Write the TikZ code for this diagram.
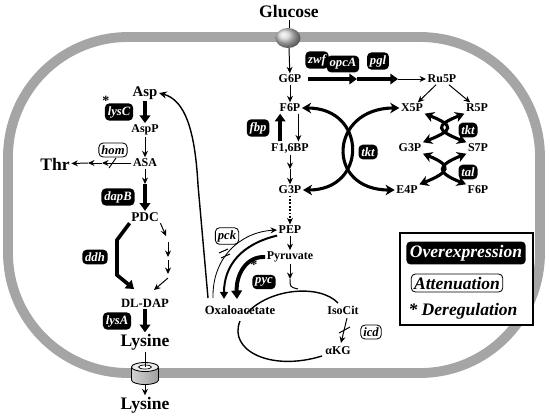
\documentclass[tikz,border=0pt]{standalone}
\usepackage{fontspec}
\setmainfont{Liberation Serif}
\usetikzlibrary{positioning,arrows.meta,shapes.geometric}
\definecolor{membrane}{RGB}{165,165,165}
\tikzset{
  met/.style={font=\bfseries\fontsize{8.5}{9}\selectfont, inner sep=1pt},
  bigmet/.style={font=\bfseries\fontsize{12.5}{13}\selectfont, inner sep=1pt},
  upbox/.style={fill=black, text=white, rounded corners=3pt, font=\bfseries\itshape\fontsize{9}{9}\selectfont, inner sep=2pt},
  downbox/.style={draw, fill=white, line width=0.6pt, rounded corners=3pt, font=\bfseries\itshape\fontsize{9}{9}\selectfont, inner sep=1.8pt},
  flux/.style={line width=0.7pt, -{Stealth[length=4.6pt,width=4.2pt]}},
  fat/.style={line width=2.6pt, -{Triangle[length=5.5pt,width=7.5pt]}},
  revflux/.style={line width=2.2pt, {Stealth[length=6.5pt,width=7.5pt,inset=2pt]}-{Stealth[length=6.5pt,width=7.5pt,inset=2pt]}},
}

\begin{document}
\begin{tikzpicture}[x=0.025cm,y=-0.025cm]
\useasboundingbox (0,0) rectangle (550,415);
% cell
\draw[membrane, line width=7pt, rounded corners=3cm] (8,37) rectangle (540,373);

% metabolites
\node[bigmet] (glc) at (289,12) {Glucose};
\node[met] (g6p) at (290,79) {G6P};
\node[met] (f6p) at (290,108) {F6P};
\node[met] (fbp16) at (290,148) {F1,6BP};
\node[met] (g3p) at (290,190) {G3P};
\node[met] (pep) at (290,230) {PEP};
\node[met] (pyr) at (290,257) {Pyruvate};
\node[met, font=\bfseries\fontsize{9}{9}\selectfont] (oaa) at (240,310) {Oxaloacetate};
\node[met] (isocit) at (343,310) {IsoCit};
\node[met] (akg) at (338,351) {αKG};
\node[met] (ru5p) at (442,79) {Ru5P};
\node[met] (x5p) at (412,108) {X5P};
\node[met] (r5p) at (477,108) {R5P};
\node[met] (g3pb) at (410,148) {G3P};
\node[met] (s7p) at (478,148) {S7P};
\node[met] (e4p) at (407,190) {E4P};
\node[met] (f6pb) at (478,190) {F6P};
\node[met, font=\bfseries\fontsize{10.5}{11}\selectfont] (asp) at (145,93) {Asp};
\node[met] (aspp) at (145,130) {AspP};
\node[met] (asa) at (145,163) {ASA};
\node[bigmet] (thr) at (55,164) {Thr};
\node[met, font=\bfseries\fontsize{9.5}{10}\selectfont] (pdc) at (145,217) {PDC};
\node[met, font=\bfseries\fontsize{9}{9}\selectfont] (dldap) at (145,303) {DL-DAP};
\node[bigmet] (lysin) at (145,342) {Lysine};
\node[bigmet] (lysout) at (145,405) {Lysine};

% genes
\node[upbox] (opca) at (343,64) {opcA};
\node[upbox] (zwf) at (317,60) {zwf};
\node[upbox] (pgl) at (378,61) {pgl};
\node[upbox] (fbp) at (258,128) {fbp};
\node[upbox] (tktA) at (368,152) {tkt};
\node[upbox] (tktB) at (468,130) {tkt};
\node[upbox] (tal) at (468,172) {tal};
\node[upbox] (lysc) at (119,112) {lysC};
\node[downbox] (hom) at (113,150) {hom};
\node[upbox] (dapb) at (118,197) {dapB};
\node[upbox] (ddh) at (95,257) {ddh};
\node[upbox] (lysa) at (117,321) {lysA};
\node[downbox] (pck) at (227,236) {pck};
\node[upbox] (pyc) at (264,282) {pyc};
\node[downbox] (icd) at (371,332) {icd};

% glucose uptake
\coordinate (ptsin) at (289,28);
\coordinate (ptsout) at (289,48);
\draw[line width=0.7pt] (glc) -- (ptsin);
\shade[ball color=gray!35] (288,38) ellipse (12.5 and 10);
\draw[flux] (ptsout) -- (g6p);

% glycolysis
\draw[flux] (g6p) -- (f6p);
\draw[flux] ([xshift=6pt]f6p.south) -- ([xshift=6pt]fbp16.north);
\draw[fat] ([xshift=-7pt]fbp16.north) -- ([xshift=-7pt]f6p.south);
\coordinate (gly1) at (290,169);
\draw[flux] (fbp16) -- (gly1);
\draw[flux] (gly1) -- (g3p);
\draw[flux, line width=0.9pt, dash pattern=on 1.2pt off 1.2pt] (g3p) -- (pep);
\draw[flux] (pep) -- (pyr);
\coordinate (pyrj) at (290,279);
\draw[flux] (pyr) -- (pyrj);
\draw[line width=0.7pt] (pyrj) .. controls (290,287) .. (298,289);

% pentose phosphate
\coordinate (pp0) at (308,79);
\coordinate (pp1) at (357,79);
\coordinate (pp2) at (398,79);
\draw[fat] (pp0) -- (pp1);
\draw[fat] (pp1) -- (pp2);
\draw[flux] (pp2) -- (ru5p);
\draw[flux] (ru5p) -- (x5p);
\draw[flux] (ru5p) -- (r5p);
\draw[revflux] (f6p.east) .. controls +(65,0) and +(65,0) .. (g3p.east);
\draw[revflux] (x5p.west) .. controls +(-70,0) and +(-70,0) .. (e4p.west);
\draw[revflux] (x5p.south east) .. controls +(30,12) and +(30,-12) .. (g3pb.north east);
\draw[revflux] (r5p.south west) .. controls +(-30,12) and +(-30,-12) .. (s7p.north west);
\draw[revflux] (g3pb.south east) .. controls +(30,12) and +(30,-12) .. (e4p.north east);
\draw[revflux] (s7p.south west) .. controls +(-30,12) and +(-30,-12) .. (f6pb.north west);

% lysine pathway
\draw[fat] (asp) -- (aspp);
\draw[flux] (aspp) -- (asa);
\coordinate (asa2) at (145,184);
\draw[flux] (asa) -- (asa2);
\draw[fat] (asa2) -- (pdc);
\coordinate (thr1) at (102,163);
\coordinate (thr2) at (88,163);
\draw[flux] (asa) -- (thr1);
\draw[flux] (thr1) -- (thr2);
\draw[flux] (thr2) -- (thr);
\draw[line width=0.7pt] (109,168) -- (116,158);
\coordinate (ddh1) at (117,240);
\coordinate (ddh2) at (117,275);
\coordinate (ddh3) at (134,289);
\draw[line width=2.6pt, -{Triangle[length=5.5pt,width=7.5pt]}] (pdc.south west) -- (ddh1) -- (ddh2) -- (ddh3);
\coordinate (sp1) at (166,236);
\coordinate (sp2) at (168,242);
\coordinate (sp3) at (168,257);
\coordinate (sp4) at (168,260);
\coordinate (sp5) at (168,274);
\coordinate (sp6) at (168,278);
\coordinate (sp7) at (154,290);
\draw[flux] (pdc.south east) -- (sp1);
\draw[flux] (sp2) -- (sp3);
\draw[flux] (sp4) -- (sp5);
\draw[flux] (sp6) -- (sp7);
\draw[fat] (dldap) -- (lysin);

% lysine export
\shade[left color=gray!35, right color=gray!75] (131.5,367) rectangle (158.5,380);
\shade[left color=gray!35, right color=gray!75] (145,380) ellipse (13.5 and 4.5);
\draw[line width=0.6pt] (131.5,380) arc[start angle=180, end angle=360, x radius=13.5, y radius=-4.5];
\draw[line width=0.6pt] (131.5,367) -- (131.5,380);
\draw[line width=0.6pt] (158.5,367) -- (158.5,380);
\filldraw[fill=gray!15, line width=0.6pt] (145,367) ellipse (13.5 and 4.5);
\filldraw[fill=white, line width=0.5pt] (145,367) ellipse (6.5 and 2);
\coordinate (lyshole) at (145,367);
\coordinate (lysbot) at (145,385);
\draw[line width=0.7pt] (lysin) -- (lyshole);
\draw[flux] (lysbot) -- (lysout);

% anaplerosis
\coordinate (aspline) at (208,298);
\draw[line width=1pt, -{Stealth[length=5.5pt,width=5pt]}] (aspline) -- (198,185) .. controls (195,130) and (185,100) .. (asp.east);
\coordinate (pckst) at (213,298);
\draw[line width=0.6pt, -{Stealth[length=4.6pt,width=4.2pt]}] (pckst) .. controls (212,258) and (240,232) .. (pep.west);
\draw[line width=0.7pt] (219,253) -- (228,249);
\draw[line width=0.7pt] (221,258) -- (230,254);
\coordinate (ppcend) at (224,299);
\draw[line width=1.4pt, -{Triangle[length=5pt,width=5.5pt]}] (pep.south west) .. controls (242,244) and (224,265) .. (ppcend);
\coordinate (pycend) at (237,299);
\draw[line width=2.8pt, -{Triangle[length=6pt,width=7.5pt]}] (pyr.west) .. controls (246,256) and (236,275) .. (pycend);

% deregulated enzymes
\node[font=\bfseries\fontsize{10}{10}\selectfont, inner sep=0pt] (astA) at (106,101) {*};
\node[font=\bfseries\fontsize{10}{10}\selectfont, inner sep=0pt] (astB) at (254,265) {*};

% TCA cycle
\draw[line width=1pt] (247,313) .. controls (270,288) and (320,284) .. (338,303);
\draw[line width=1pt] (240,321) .. controls (228,350) and (270,372) .. (322,356);
\coordinate (icd1) at (347,318);
\coordinate (icd2) at (341,343);
\draw[flux] (icd1) -- (icd2);
\draw[line width=0.7pt] (339,333) -- (350,327);

% legend
\draw[line width=0.8pt, fill=white] (400,233) rectangle (533,325);
\node[upbox, font=\bfseries\itshape\fontsize{12.5}{13}\selectfont, inner sep=2.5pt] (legover) at (466,253) {Overexpression};
\node[downbox, font=\bfseries\itshape\fontsize{12.5}{13}\selectfont, inner sep=2pt] (legatt) at (457,283) {Attenuation};
\node[font=\bfseries\itshape\fontsize{12.5}{13}\selectfont] (legdereg) at (463,311) {* Deregulation};
\end{tikzpicture}
\end{document}
